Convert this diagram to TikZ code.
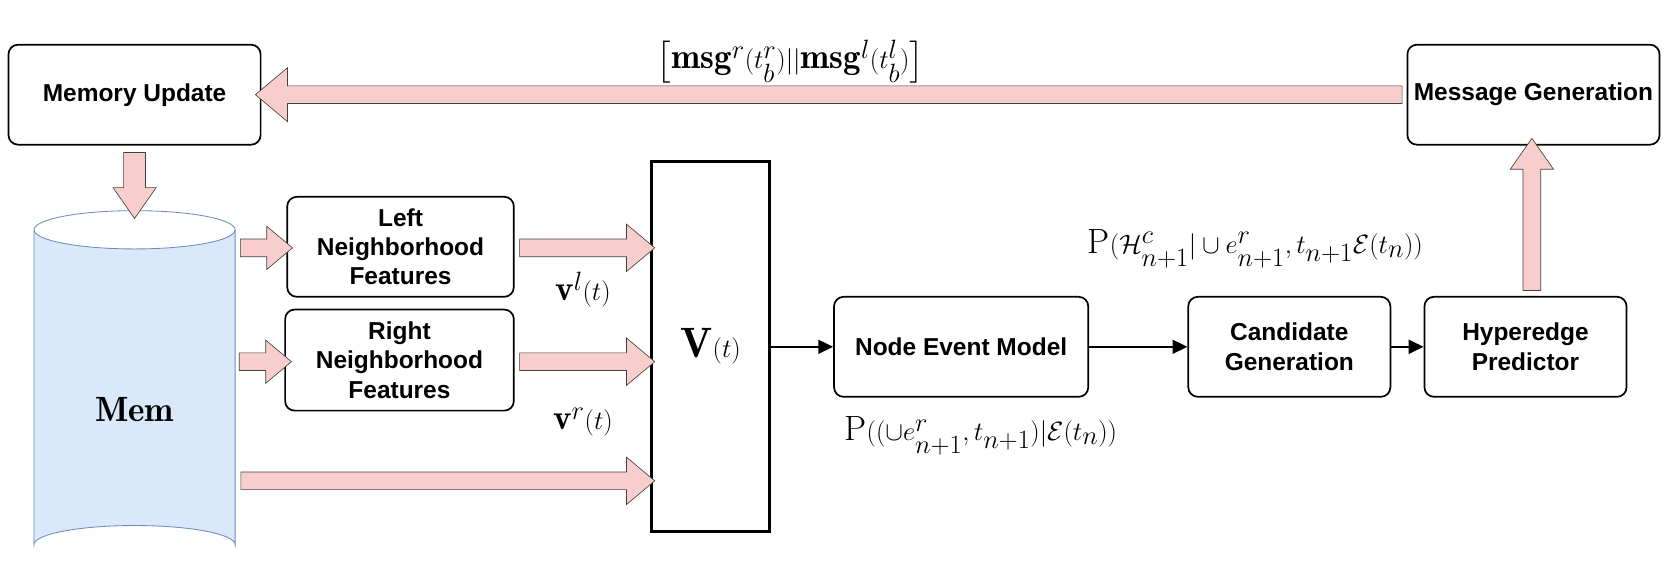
\documentclass[tikz,border=0pt]{standalone}
\usepackage{amsmath,amssymb}
\usepackage{fontspec}
\newfontfamily\sansb{Liberation Sans}
\usetikzlibrary{shapes.arrows,shapes.geometric,arrows.meta}
\definecolor{cylfill}{RGB}{218,232,252}
\definecolor{cyldraw}{RGB}{108,142,191}
\definecolor{pink}{RGB}{248,206,204}
\begin{document}
\begin{tikzpicture}[x=1pt,y=-1pt,
  box/.style={draw,line width=1.6pt,rounded corners=9pt,align=center,inner sep=0,font=\sansb\bfseries\fontsize{23}{27.5}\selectfont},
  parrow/.style={single arrow,draw=black!75,fill=pink,line width=0.6pt,inner xsep=0,text width=0,text height=0,text depth=0,anchor=center,single arrow tip angle=80},
  blk/.style={-{Triangle[length=14pt,width=13pt]},line width=2.2pt},
  lab/.style={inner sep=0,font=\fontsize{33}{38}\selectfont}]
\begin{scope}[transform canvas={scale=1.0638}]
\node[box,minimum width=237,minimum height=94] (mu) at (126.5,89) {Memory Update};
\node[box,minimum width=237,minimum height=94] (mg) at (1441.5,89) {Message Generation};
\node[box,minimum width=213,minimum height=94] (lnf) at (376.5,232) {Left\\Neighborhood\\Features};
\node[box,minimum width=215,minimum height=95] (rnf) at (375.5,338.5) {Right\\Neighborhood\\Features};
\node[draw,line width=3pt,minimum width=111,minimum height=348,inner sep=0] (V) at (668,325.5) {};
\node[lab,font=\fontsize{40}{44}\selectfont] (Vl) at (668,325) {$\mathbf{V}(t)$};
\node[box,minimum width=239,minimum height=94] (nem) at (903.5,326) {Node Event Model};
\node[box,minimum width=190,minimum height=94] (cg) at (1212,326) {Candidate\\Generation};
\node[box,minimum width=190,minimum height=94] (hp) at (1434,326) {Hyperedge\\Predictor};
% cylinder
\fill[cylfill] (32,216) -- (32,512) arc[start angle=180,end angle=360,x radius=94.5,y radius=18] -- (221,216) arc[start angle=0,end angle=180,x radius=94.5,y radius=18];
\draw[cyldraw,line width=0.8pt] (32,216) -- (32,512) arc[start angle=180,end angle=360,x radius=94.5,y radius=18] -- (221,216);
\draw[cyldraw,line width=0.8pt] (126.5,216) ellipse[x radius=94.5,y radius=18];
\node[lab] (mem) at (126.5,385) {$\mathbf{Mem}$};
% pink arrows
\node[parrow,shape border rotate=180,minimum height=1078,minimum width=50,inner ysep=8,single arrow head extend=17] (a1) at (784,89) {};
\node[parrow,shape border rotate=270,minimum height=62,minimum width=40,inner sep=10,single arrow head extend=10,single arrow tip angle=70] (a2) at (126.5,167) {};
\node[parrow,minimum height=49,minimum width=40,inner ysep=8,single arrow head extend=12] (a3) at (245.5,233) {};
\node[parrow,minimum height=49,minimum width=40,inner ysep=8,single arrow head extend=12] (a4) at (244.5,340) {};
\node[parrow,minimum height=127,minimum width=44,inner ysep=8,single arrow head extend=14] (a5) at (547,233) {};
\node[parrow,minimum height=127,minimum width=44,inner ysep=8,single arrow head extend=14] (a6) at (547,340) {};
\node[parrow,minimum height=389,minimum width=44,inner ysep=8,single arrow head extend=14] (a7) at (416,452) {};
\node[parrow,shape border rotate=90,minimum height=143,minimum width=40,inner sep=8,single arrow head extend=12,single arrow tip angle=70] (a8) at (1440,207.5) {};
% black arrows
\draw[blk] (V.east |- nem.west) -- (nem.west);
\draw[blk] (nem.east) -- (cg.west);
\draw[blk] (cg.east) -- (hp.west);
% labels
\node[lab] (msg) at (743,58) {$\big[\mathbf{msg}^r(t_b^r)||\mathbf{msg}^l(t_b^l)\big]$};
\node[lab] (vl) at (548,272) {$\mathbf{v}^l(t)$};
\node[lab] (vr) at (548,397) {$\mathbf{v}^r(t)$};
\node[lab] (p1) at (1180,234) {$\mathrm{P}(\mathcal{H}^c_{n+1}|\cup e^r_{n+1},t_{n+1}\mathcal{E}(t_n))$};
\node[lab] (p2) at (922,410) {$\mathrm{P}((\cup e^r_{n+1},t_{n+1})|\mathcal{E}(t_n))$};
\end{scope}
\pgfresetboundingbox
\path[use as bounding box] (0,0) rectangle (1668,574);
\end{tikzpicture}
\end{document}
